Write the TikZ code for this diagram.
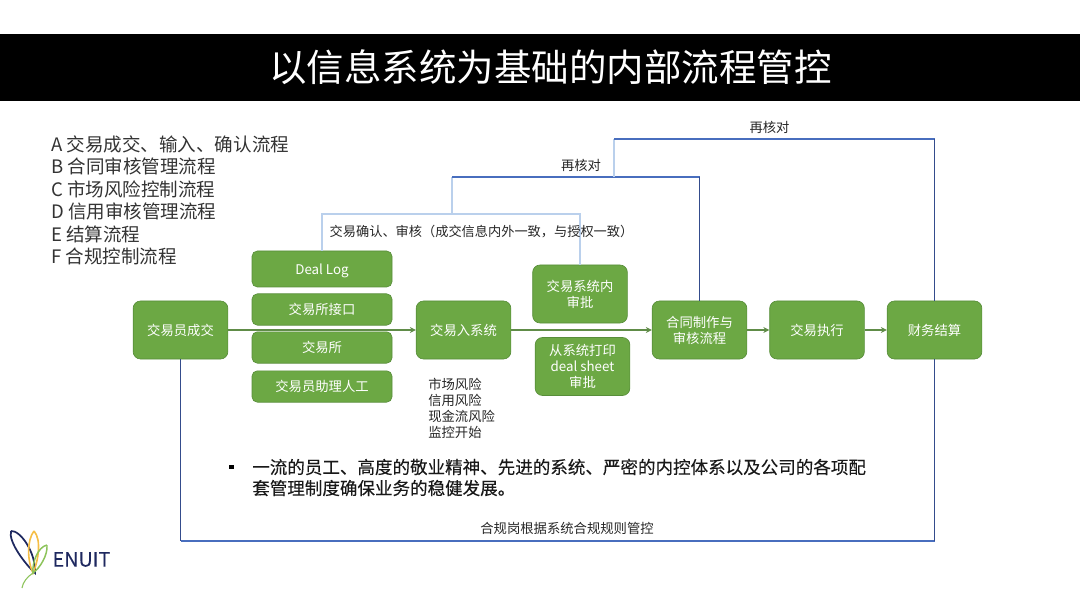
\documentclass[tikz,border=0pt]{standalone}
\usepackage{fontspec}
\setmainfont{Noto Sans CJK SC}
\newfontfamily\heavycjk[FakeBold=0.2]{Noto Sans CJK SC}
\usetikzlibrary{arrows.meta}
\definecolor{boxfill}{RGB}{108,168,68}
\definecolor{boxedge}{RGB}{88,142,58}
\definecolor{flowline}{RGB}{96,140,72}
\definecolor{palecheck}{RGB}{186,208,236}
\definecolor{midcheck}{RGB}{72,110,190}
\definecolor{darkcheck}{RGB}{52,76,140}
\definecolor{enuitnavy}{RGB}{30,40,95}
\definecolor{enuityellow}{RGB}{245,190,70}
\definecolor{enuitgreen}{RGB}{140,195,90}

\begin{document}
\begin{tikzpicture}[x=0.75pt, y=-0.75pt]
    \useasboundingbox (0,0) rectangle (1080,598);
    \tikzstyle{step box} = [draw=boxedge, fill=boxfill, text=white, rounded corners=5.5pt,
        align=center, line width=0.5pt, font=\fontsize{10}{12}\selectfont,
        minimum width=71pt, minimum height=43.5pt, inner sep=0pt]
    \tikzstyle{stack box} = [step box, minimum width=105pt, rounded corners=4pt,
        text height=8pt, text depth=0pt]
    \tikzstyle{flow} = [draw=flowline, line width=0.9pt, -{Stealth[length=4.5pt, width=4.5pt]}]
    \tikzstyle{note} = [font=\fontsize{10}{12}\selectfont, inner sep=0pt, text=black!85]

    % title bar
    \fill[black] (0,34) rectangle (1080,101);
    \node[text=white, font=\fontsize{28.1}{32}\selectfont] (title) at (550.5,67) {以信息系统为基础的内部流程管控};

    % process list
    \node[anchor=west, align=left, inner sep=0pt, text=black!80, font=\fontsize{13.9}{16.85}\selectfont] (processes) at (51,200.5)
        {A 交易成交、输入、确认流程\\B 合同审核管理流程\\C 市场风险控制流程\\D 信用审核管理流程\\E 结算流程\\F 合规控制流程};

    % main row
    \node[step box] (dealer) at (180.5,330) {交易员成交};
    \node[step box] (entry) at (463.5,330) {交易入系统};
    \node[step box] (contract) at (699.5,330) {合同制作与\\审核流程};
    \node[step box] (execute) at (817,330) {交易执行};
    \node[step box] (settle) at (934.5,330) {财务结算};

    % channels
    \node[stack box, minimum height=27pt] (deallog) at (322,269) {Deal Log};
    \node[stack box, minimum height=23.5pt] (gateway) at (322,309.5) {交易所接口};
    \node[stack box, minimum height=23.5pt] (exchange) at (322,347.5) {交易所};
    \node[stack box, minimum height=23.5pt] (assistant) at (322,386.5) {交易员助理人工};

    % approvals
    \node[step box] (sysapprove) at (580,294) {交易系统内\\审批};
    \node[step box] (printapprove) at (582.5,366.5) {从系统打印\\deal sheet\\审批};

    % corners of the checking lines
    \coordinate (confirmturn) at (452,214);
    \coordinate (recheckone) at (614,177);
    \coordinate (rechecktwo) at (780,139);
    \coordinate (compliance) at (567,541);

    \draw[flow] (dealer) -- (entry);
    \draw[flow] (entry) -- (contract);
    \draw[flow] (contract) -- (execute);
    \draw[flow] (execute) -- (settle);

    \draw[palecheck, line width=0.9pt] (deallog.north) |- (confirmturn) -| (sysapprove.north);
    \draw[palecheck, line width=0.9pt] (confirmturn) -- (confirmturn |- recheckone);
    \draw[midcheck, line width=0.9pt] (confirmturn |- recheckone) -- (contract.north |- recheckone);
    \draw[darkcheck, line width=0.9pt] (contract.north |- recheckone) -- (contract.north);
    \draw[palecheck, line width=0.9pt] (recheckone) -- (recheckone |- rechecktwo);
    \draw[midcheck, line width=0.9pt] (recheckone |- rechecktwo) -- (settle.north |- rechecktwo);
    \draw[darkcheck, line width=0.9pt] (settle.north |- rechecktwo) -- (settle.north);
    \draw[darkcheck, line width=0.9pt] (dealer.south) -- (dealer.south |- compliance);
    \draw[midcheck, line width=0.9pt] (dealer.south |- compliance) -- (settle.south |- compliance);
    \draw[darkcheck, line width=0.9pt] (settle.south |- compliance) -- (settle.south);

    % labels
    \node[note] (recheckhigh) at (769.5,127) {再核对};
    \node[note] (recheckmid) at (581,165) {再核对};
    \node[note, font=\fontsize{9.9}{12}\selectfont] (confirmlabel) at (481.5,232) {交易确认、审核（成交信息内外一致，与授权一致）};
    \node[note, anchor=west, align=left] (risks) at (428,408) {市场风险\\信用风险\\现金流风险\\监控开始};
    \node[note] (compliancelabel) at (567,528) {合规岗根据系统合规规则管控};

    % closing statement
    \node[fill=black, minimum size=3.5pt, inner sep=0pt] (bullet) at (231.5,467) {};
    \node[anchor=west, align=left, inner sep=0pt, text=black!90, font=\heavycjk\fontsize{13.15}{15.75}\selectfont] (statement) at (252,477.5)
        {一流的员工、高度的敬业精神、先进的系统、严密的内控体系以及公司的各项配\\套管理制度确保业务的稳健发展。};

    % logo
    \draw[enuitnavy, line width=1.3pt] (11,531) .. controls (20,530) and (36,552) .. (35,573)
        .. controls (26,565) and (8,542) .. (11,531);
    \draw[enuityellow, line width=1.2pt] (34,531) .. controls (42,540) and (38,562) .. (33,573)
        .. controls (27,560) and (27,540) .. (34,531);
    \draw[enuitgreen, line width=1.1pt] (47,545) .. controls (48,555) and (40,568) .. (33,573)
        .. controls (32,562) and (38,547) .. (47,545);
    \draw[enuitgreen, line width=0.8pt] (33,573) .. controls (27,577) and (23,582) .. (22,588);
    \node[text=enuitnavy, inner sep=0pt, font=\heavycjk\fontsize{14.8}{16}\selectfont] (enuit) at (81.5,559.5) {ENUIT};
\end{tikzpicture}
\end{document}
